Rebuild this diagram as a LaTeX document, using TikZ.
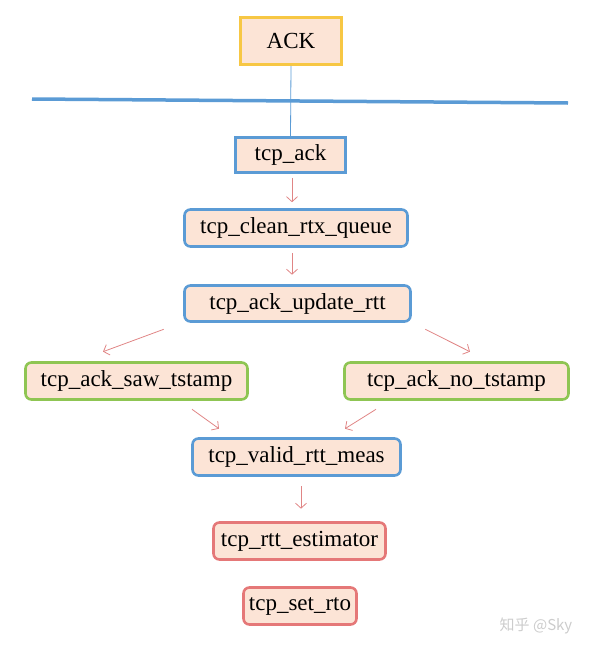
\documentclass[tikz,border=0pt]{standalone}
\usepackage{fontspec}
\setmainfont{Liberation Serif}
\newfontfamily\timesfont{Liberation Serif}
\newfontfamily\cjkfont{Noto Sans CJK SC}
\usetikzlibrary{arrows.meta}
\definecolor{peach}{HTML}{FCE4D6}
\definecolor{bblue}{HTML}{5B9BD5}
\definecolor{bgreen}{HTML}{8FC553}
\definecolor{byellow}{HTML}{F7C744}
\definecolor{bred}{HTML}{E57878}
\definecolor{arrred}{HTML}{E08585}
\tikzset{
  box/.style={draw, fill=peach, line width=2.6pt, inner sep=0pt, font=\timesfont\fontsize{23}{27}\selectfont, text=black},
  rbox/.style={box, rounded corners=6pt},
  bluebox/.style={rbox, draw=bblue},
  greenbox/.style={rbox, draw=bgreen},
  redbox/.style={rbox, draw=bred},
  arr/.style={draw=arrred, line width=0.8pt, -{Straight Barb[length=5pt,width=11pt]}},
}
\begin{document}
\begin{tikzpicture}[x=1pt,y=-1pt]
\useasboundingbox (0,0) rectangle (594,651);
\node[box, draw=byellow, minimum width=101pt, minimum height=47pt] (ack) at (291,41) {ACK};
\node[box, draw=bblue, minimum width=110pt, minimum height=35pt] (tcpack) at (290.5,155) {tcp\_ack};
\node[bluebox, minimum width=223pt, minimum height=37pt] (clean) at (296,228) {tcp\_clean\_rtx\_queue};
\node[bluebox, minimum width=226pt, minimum height=36pt] (update) at (297.5,303.5) {tcp\_ack\_update\_rtt};
\node[greenbox, minimum width=222pt, minimum height=37pt] (saw) at (136.5,381) {tcp\_ack\_saw\_tstamp};
\node[greenbox, minimum width=224pt, minimum height=37pt] (no) at (456.5,381) {tcp\_ack\_no\_tstamp};
\node[bluebox, minimum width=208pt, minimum height=37pt] (valid) at (296.5,457) {tcp\_valid\_rtt\_meas};
\node[redbox, minimum width=172pt, minimum height=37pt] (est) at (299.5,541) {tcp\_rtt\_estimator};
\node[redbox, minimum width=113pt, minimum height=37pt] (rto) at (300,606) {tcp\_set\_rto};
\coordinate (hl) at (32,99);
\coordinate (hr) at (568,103);
\draw[bblue, line width=3.5pt] (hl) -- (hr);
\draw[bblue, line width=0.8pt] (ack.south) -- (tcpack.north);
\draw[arr] ([xshift=1.5pt,yshift=-4pt]tcpack.south) -- ([xshift=-4pt,yshift=6pt]clean.north);
\draw[arr] ([xshift=-4pt,yshift=-5.5pt]clean.south) -- ([xshift=-5.5pt,yshift=9.5pt]update.north);
\draw[arr] ([xshift=-19.5pt,yshift=-6.5pt]update.south west) -- ([xshift=-33.5pt,yshift=9.5pt]saw.north);
\draw[arr] ([xshift=13.5pt,yshift=-6.5pt]update.south east) -- ([xshift=13.5pt,yshift=9.5pt]no.north);
\draw[arr] ([xshift=55.5pt,yshift=-8.5pt]saw.south) -- ([xshift=-77.5pt,yshift=8.5pt]valid.north);
\draw[arr] ([xshift=-80.5pt,yshift=-8.5pt]no.south) -- ([xshift=48.5pt,yshift=8.5pt]valid.north);
\draw[arr] ([xshift=4.5pt,yshift=-9.5pt]valid.south) -- ([xshift=1.5pt,yshift=12.5pt]est.north);
\node[text=black!20, font=\cjkfont\fontsize{15}{18}\selectfont] (wm) at (536,626) {知乎 @Sky};
\end{tikzpicture}
\end{document}
